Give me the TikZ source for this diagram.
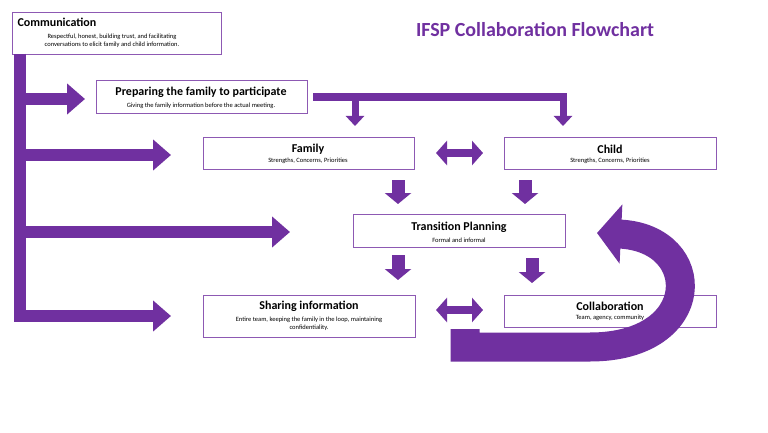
\documentclass[tikz,border=0pt]{standalone}
\usepackage{fontspec}
\setmainfont{Carlito}
\usetikzlibrary{arrows.meta}
\definecolor{ipurple}{HTML}{7030A0}
\begin{document}
\begin{tikzpicture}[x=1pt,y=-1pt,
  box/.style={draw=ipurple!80, line width=0.8pt, fill=white, inner sep=0pt},
  ttl/.style={font=\bfseries\fontsize{12}{13}\selectfont},
  sub/.style={font=\fontsize{6.5}{7.5}\selectfont, align=center},
  branch/.style={ipurple, line width=12pt, -{Triangle[length=18pt,width=30pt]}},
  down/.style={ipurple, line width=13pt, -{Triangle[length=11pt,width=26pt]}},
  bar/.style={ipurple, line width=8pt},
  barhead/.style={ipurple, line width=7pt, -{Triangle[length=10pt,width=18pt]}},
  dbl/.style={ipurple, line width=8pt, {Triangle[length=11pt,width=24pt]}-{Triangle[length=11pt,width=24pt]}}
  ]
\useasboundingbox (0,0) rectangle (768,433);
\fill[white] (0,0) rectangle (768,433);

\node[font=\bfseries\fontsize{20}{22}\selectfont, text=ipurple] (title) at (535,30) {IFSP Collaboration Flowchart};

% boxes
\draw[box] (12,12) rectangle (221,54);
\node[ttl, anchor=west] (comm) at (14,22) {Communication};
\node[sub] (commsub) at (112,41) {Respectful, honest, building trust, and facilitating\\conversations to elicit family and child information.};

\draw[box] (96,80) rectangle (307,113);
\node[ttl] (prep) at (201,92) {Preparing the family to participate};
\node[sub] (prepsub) at (201,106) {Giving the family information before the actual meeting.};

\draw[box] (203,137) rectangle (414,169);
\node[ttl] (fam) at (308,149) {Family};
\node[sub] (famsub) at (308,161) {Strengths, Concerns, Priorities};

\draw[box] (504,137) rectangle (716,169);
\node[ttl] (child) at (610,149) {Child};
\node[sub] (childsub) at (610,161) {Strengths, Concerns, Priorities};

\draw[box] (353,214) rectangle (565,247);
\node[ttl] (trans) at (459,227) {Transition Planning};
\node[sub] (transsub) at (459,240) {Formal and informal};

\draw[box] (203,295) rectangle (415,337);
\node[ttl] (share) at (309,306) {Sharing information};
\node[sub] (sharesub) at (309,324) {Entire team, keeping the family in the loop, maintaining\\confidentiality.};

\draw[box] (504,295) rectangle (716,327);
\node[ttl] (collab) at (610,306) {Collaboration};
\node[sub] (collabsub) at (610,318) {Team, agency, community};

% communication spine and branches
\coordinate (top) at (20,54);
\coordinate (bot) at (20,322);
\draw[ipurple, line width=12pt] (top) -- (bot);
\draw[branch] (20,99) -- (85,99);
\draw[branch] (20,155) -- (171,155);
\draw[branch] (20,232) -- (290,232);
\draw[branch] (14,316) -- (171,316);

% preparing bracket
\draw[bar] (313,97) -- (567,97);
\draw[barhead] (355,94) -- (355,126);
\draw[barhead] (563,94) -- (563,126);

% double arrows
\draw[dbl] (436,153) -- (483,153);
\draw[dbl] (436,310) -- (483,310);

% down arrows
\draw[down] (398,180) -- (398,204);
\draw[down] (525,180) -- (525,204);
\draw[down] (398,255) -- (398,280);
\draw[down] (532,258) -- (532,283);

% return arrow
\draw[ipurple, line width=29pt, -{Triangle[length=24pt,width=58pt]}]
  (465,329) -- (465,347) -- (590,347) .. controls (705,347) and (705,238) .. (597,233);
\end{tikzpicture}
\end{document}
